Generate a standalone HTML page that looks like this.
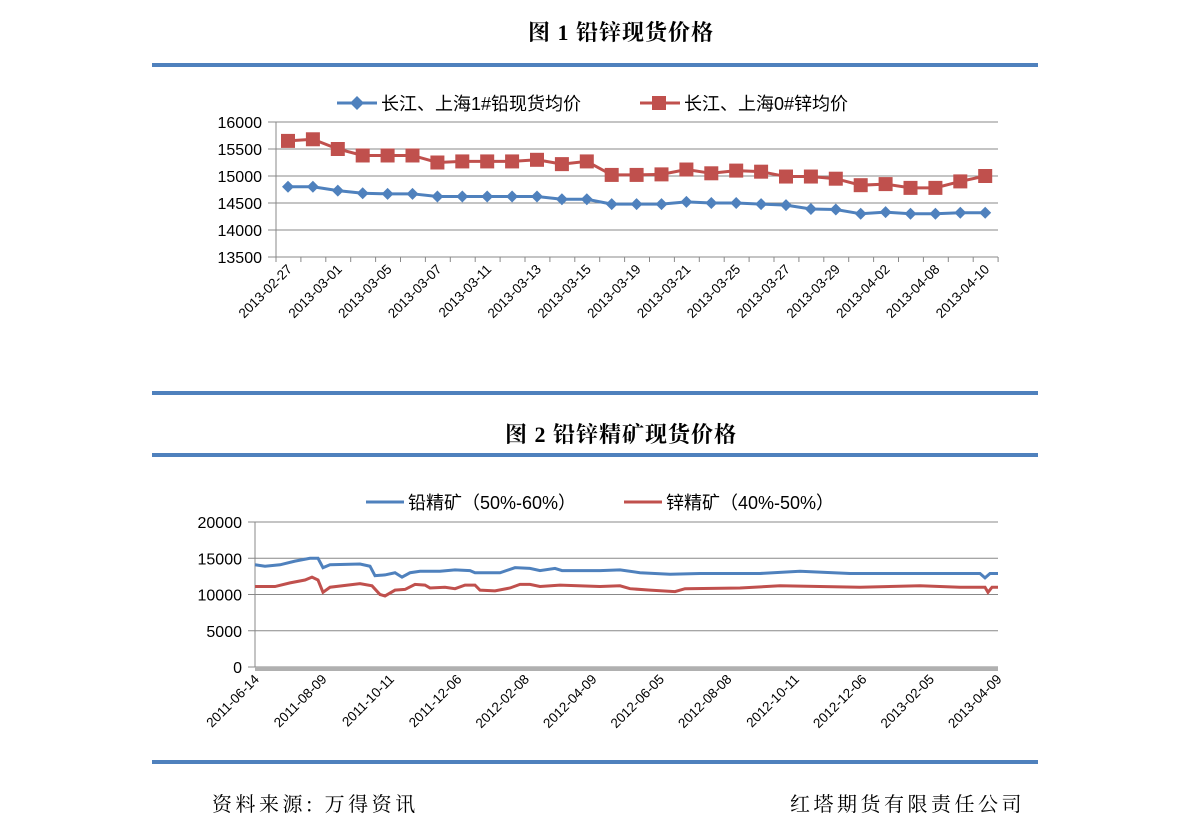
<!DOCTYPE html>
<html><head><meta charset="utf-8"><style>
html,body{margin:0;padding:0;background:#fff;}
svg{display:block;font-family:"Liberation Sans","Noto Sans CJK SC",sans-serif;}
</style></head><body>
<svg id="s" width="1191" height="836" xmlns="http://www.w3.org/2000/svg">
<text x="621" y="40" text-anchor="middle" font-size="22" font-weight="bold" letter-spacing="1" font-family="Liberation Serif,'Noto Serif CJK SC',serif">图 1 铅锌现货价格</text>
<rect x="152" y="63" width="886" height="4" fill="#4f81bd"/>
<rect x="152" y="391" width="886" height="4" fill="#4f81bd"/>
<text x="621" y="442" text-anchor="middle" font-size="22" font-weight="bold" letter-spacing="1" font-family="Liberation Serif,'Noto Serif CJK SC',serif">图 2 铅锌精矿现货价格</text>
<rect x="152" y="453" width="886" height="4" fill="#4f81bd"/>
<rect x="152" y="760" width="886" height="4" fill="#4f81bd"/>
<text x="212" y="811" font-size="20" letter-spacing="3.5" font-family="'Noto Serif CJK SC',serif">资料来源: 万得资讯</text>
<text x="790" y="811" font-size="20" letter-spacing="3.5" font-family="'Noto Serif CJK SC',serif">红塔期货有限责任公司</text>
</svg>
<script>
var NS="http://www.w3.org/2000/svg",s=document.getElementById('s');
function el(t,a,txt){var e=document.createElementNS(NS,t);for(var k in a)e.setAttribute(k,a[k]);if(txt!=null)e.textContent=txt;s.appendChild(e);return e;}
var y1=function(v){return 122+(16000-v)*0.054;};
for(var v=13500;v<=16000;v+=500){el('line',{x1:268,x2:998,y1:y1(v),y2:y1(v),stroke:'#888','stroke-width':1});el('text',{x:262,y:y1(v)+6,'text-anchor':'end','font-size':16,fill:'#000'},v);}
el('line',{x1:276,x2:276,y1:122,y2:257,stroke:'#888'});
for(var i=0;i<=29;i++){var x=276+i*24.9;el('line',{x1:x,x2:x,y1:257,y2:262,stroke:'#888'});}
var L=['2013-02-27','2013-03-01','2013-03-05','2013-03-07','2013-03-11','2013-03-13','2013-03-15','2013-03-19','2013-03-21','2013-03-25','2013-03-27','2013-03-29','2013-04-02','2013-04-08','2013-04-10'];
for(var i=0;i<15;i++){var x=288+i*2*24.9;el('text',{x:x+5,y:270,'text-anchor':'end','font-size':13.5,transform:'rotate(-45 '+(x+5)+' 270)'},L[i]);}
var B=[14800,14800,14730,14680,14670,14670,14620,14620,14620,14620,14620,14570,14570,14480,14480,14480,14520,14500,14500,14480,14460,14390,14380,14300,14330,14300,14300,14320,14320];
var R=[15650,15680,15500,15380,15380,15380,15250,15270,15270,15270,15300,15220,15270,15020,15020,15030,15120,15050,15100,15080,14990,14990,14950,14830,14850,14780,14780,14900,15000];
function px(i){return 288+i*24.9;}
el('polyline',{points:R.map(function(v,i){return px(i)+','+y1(v)}).join(' '),fill:'none',stroke:'#c0504d','stroke-width':3});
R.forEach(function(v,i){el('rect',{x:px(i)-7,y:y1(v)-7,width:14,height:14,fill:'#c0504d'});});
el('polyline',{points:B.map(function(v,i){return px(i)+','+y1(v)}).join(' '),fill:'none',stroke:'#4f81bd','stroke-width':3});
B.forEach(function(v,i){var x=px(i),y=y1(v);el('polygon',{points:(x-6)+','+y+' '+x+','+(y-6)+' '+(x+6)+','+y+' '+x+','+(y+6),fill:'#4f81bd'});});
el('line',{x1:337,x2:377,y1:103,y2:103,stroke:'#4f81bd','stroke-width':3});
el('polygon',{points:'350,103 357,96 364,103 357,110',fill:'#4f81bd'});
el('text',{x:381,y:110,'font-size':18},'长江、上海1#铅现货均价');
el('line',{x1:640,x2:680,y1:103,y2:103,stroke:'#c0504d','stroke-width':3});
el('rect',{x:652,y:96,width:14,height:14,fill:'#c0504d'});
el('text',{x:684,y:110,'font-size':18},'长江、上海0#锌均价');
var y2=function(v){return 667-v*0.00725;};
for(var v=0;v<=20000;v+=5000){el('line',{x1:248,x2:998,y1:y2(v),y2:y2(v),stroke:'#888'});el('text',{x:242,y:y2(v)+6,'text-anchor':'end','font-size':16},v);}
el('line',{x1:255,x2:255,y1:522,y2:667,stroke:'#888'});
el('rect',{x:255,y:667,width:743,height:4,fill:'#b0b0b0'});
var L2=['2011-06-14','2011-08-09','2011-10-11','2011-12-06','2012-02-08','2012-04-09','2012-06-05','2012-08-08','2012-10-11','2012-12-06','2013-02-05','2013-04-09'];
for(var i=0;i<12;i++){var x=255+i*67.5;el('text',{x:x+5,y:680,'text-anchor':'end','font-size':13.5,transform:'rotate(-45 '+(x+5)+' 680)'},L2[i]);}
var BB=[[255,14100],[265,13900],[280,14100],[295,14600],[310,15000],[318,15000],[323,13700],[330,14100],[360,14200],[370,13900],[375,12600],[385,12700],[395,13000],[402,12400],[410,13000],[420,13200],[440,13200],[455,13400],[470,13300],[475,13000],[500,13000],[515,13700],[530,13600],[540,13300],[555,13600],[562,13300],[600,13300],[620,13400],[640,13000],[670,12800],[700,12900],[760,12900],[800,13200],[850,12900],[980,12900],[985,12300],[990,12900],[998,12900]];
var RR=[[255,11100],[275,11100],[290,11600],[305,12000],[312,12400],[318,12000],[323,10300],[330,11000],[360,11500],[372,11200],[380,10000],[385,9800],[395,10600],[405,10700],[415,11400],[425,11300],[430,10900],[445,11000],[455,10800],[465,11300],[475,11300],[480,10600],[495,10500],[510,10900],[520,11400],[530,11400],[540,11100],[560,11300],[600,11100],[620,11200],[630,10800],[650,10600],[675,10400],[685,10800],[740,10900],[780,11200],[860,11000],[920,11200],[960,11000],[985,11000],[988,10300],[992,11000],[998,11000]];
el('polyline',{points:RR.map(function(p){return p[0]+','+y2(p[1])}).join(' '),fill:'none',stroke:'#c0504d','stroke-width':3});
el('polyline',{points:BB.map(function(p){return p[0]+','+y2(p[1])}).join(' '),fill:'none',stroke:'#4f81bd','stroke-width':3});
el('line',{x1:366,x2:404,y1:502,y2:502,stroke:'#4f81bd','stroke-width':3});
el('text',{x:408,y:509,'font-size':18},'铅精矿（50%-60%）');
el('line',{x1:624,x2:662,y1:502,y2:502,stroke:'#c0504d','stroke-width':3});
el('text',{x:666,y:509,'font-size':18},'锌精矿（40%-50%）');
</script>
</body></html>
